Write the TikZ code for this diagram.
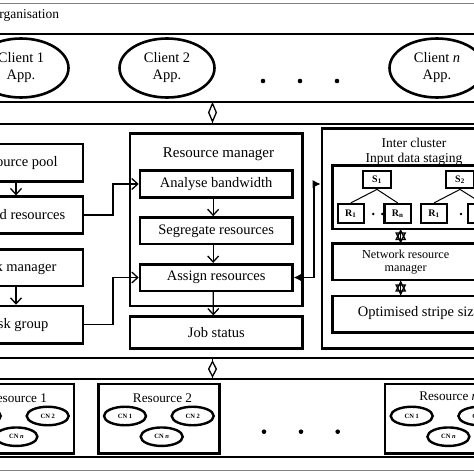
\documentclass[tikz,border=0pt]{standalone}
\usepackage{fontspec}
\setmainfont{Liberation Serif}
\usetikzlibrary{arrows.meta,shapes.geometric}
\begin{document}
\begin{tikzpicture}[x=1pt,y=-1pt,
  band/.style={draw,line width=2.6pt,inner sep=0pt,minimum width=520pt},
  box/.style={draw,line width=2.6pt,inner sep=0pt,align=center,font=\fontsize{14.5}{17}\selectfont},
  client/.style={draw,ellipse,line width=2.6pt,inner sep=0pt,align=center,minimum width=95pt,minimum height=59pt,font=\fontsize{14.5}{17}\selectfont},
  cn/.style={draw,ellipse,line width=2.4pt,inner sep=0pt,minimum width=42pt,minimum height=18.5pt,font=\bfseries\fontsize{6.5}{7}\selectfont},
  small/.style={draw,line width=2.2pt,inner sep=0pt,font=\bfseries\fontsize{10}{11}\selectfont},
  lbl/.style={inner sep=0pt,align=center},
  conn/.style={line width=1.3pt},
  barb/.style={conn,-{Straight Barb[length=6pt,width=11pt,line width=1.3pt]}},
  both/.style={conn,{Latex[length=8pt,width=8pt]}-{Latex[length=8pt,width=8pt]}},
  dot/.style={circle,fill,inner sep=0pt,minimum size=4.6pt},
  sdot/.style={circle,fill,inner sep=0pt,minimum size=2.8pt},
  tri/.style={line width=1.3pt},
]
\useasboundingbox (0,0) rectangle (474,474);
\clip (0,0) rectangle (474,474);
\fill[white] (0,0) rectangle (474,474);

% organisation frame
\node[draw=gray,line width=1pt,minimum width=490pt,minimum height=467pt] (org) at (237,237) {};
\node[lbl,anchor=east,font=\fontsize{13.5}{16}\selectfont] (orgt) at (59.3,15) {Virtual organisation};

% bands
\node[band,minimum height=68pt] (cband) at (237,68) {};
\node[band,minimum height=234pt] (mband) at (237,241) {};
\node[band,minimum height=78pt] (bband) at (237,418) {};

% clients
\node[client] (c1) at (21,68) {Client 1\\App.};
\node[client] (c2) at (167,68) {Client 2\\App.};
\node[client] (cn) at (437,68) {Client \textit{n}\\App.};
\node[dot] (d1) at (263,81) {};
\node[dot] (d2) at (300,81) {};
\node[dot] (d3) at (337,81) {};

% diamond connectors
\coordinate (dx) at (212.5,0);
\draw[conn] (cband.south -| dx) -- (mband.north -| dx);
\draw[line width=1.3pt,fill=white] (212.5,103.5) -- (216.3,112.5) -- (212.5,121.5) -- (208.7,112.5) -- cycle;
\draw[conn] (mband.south -| dx) -- (bband.north -| dx);
\draw[line width=1.3pt,fill=white] (212.5,361.5) -- (216.3,369) -- (212.5,376.5) -- (208.7,369) -- cycle;

% left column
\node[box,minimum width=134pt,minimum height=37.7pt] (pool) at (16,162.9) {Resource pool};
\node[box,minimum width=134pt,minimum height=36.6pt] (shared) at (16,215) {Shared resources};
\node[box,minimum width=134pt,minimum height=36.7pt] (task) at (16,267.7) {Task manager};
\node[box,minimum width=134pt,minimum height=37.3pt] (group) at (16,324.7) {Task group};
\draw[barb] (pool.south) -- (shared.north);
\draw[barb] (task.south) -- (group.north);

% resource manager
\node[box,minimum width=172.7pt,minimum height=172.7pt] (rm) at (216.35,219.65) {};
\node[lbl,anchor=base,font=\fontsize{15}{18}\selectfont] (rmt) at (218.5,157.3) {Resource manager};
\node[box,minimum width=152.3pt,minimum height=26.6pt] (analyse) at (216.15,184) {Analyse bandwidth};
\node[box,minimum width=152.3pt,minimum height=26.6pt] (segregate) at (216.15,230.8) {Segregate resources};
\node[box,minimum width=152.3pt,minimum height=26.6pt] (assign) at (216.15,277.5) {Assign resources};
\node[box,minimum width=172.7pt,minimum height=31.6pt] (job) at (216.35,332.5) {Job status};
\draw[barb] ([xshift=-3pt]analyse.south) -- ([xshift=-3pt]segregate.north);
\draw[barb] ([xshift=-3pt]segregate.south) -- ([xshift=-3pt]assign.north);
\draw[barb] ([xshift=-3pt]assign.south) -- ([xshift=-3pt]job.north);
\draw[barb] (shared.east) -- ++(28.7,0) |- (analyse.west);
\draw[barb] (group.east) -- ++(28.7,0) |- (assign.west);

% inter cluster
\node[box,minimum width=182pt,minimum height=219.8pt] (ic) at (413,238.4) {};
\draw[both] (assign.east) -- ++(20.4,0) |- (ic.west |- analyse.center);
\node[lbl,font=\fontsize{13.5}{15}\selectfont] (ict) at (414,151.5) {Inter cluster\\Input data staging};
\node[box,minimum width=161.7pt,minimum height=63.3pt] (sr) at (413.2,197.35) {};
\node[small,minimum width=27.4pt,minimum height=17.6pt] (s1) at (377,179.5) {S\textsubscript{1}};
\node[small,minimum width=27.4pt,minimum height=17.6pt] (s2) at (460,179.5) {S\textsubscript{2}};
\node[small,minimum width=26.3pt,minimum height=19.3pt] (r1a) at (350.85,213.65) {R\textsubscript{1}};
\node[small,minimum width=26.3pt,minimum height=19.3pt] (rna) at (397.65,213.65) {R\textsubscript{n}};
\node[small,minimum width=26.3pt,minimum height=19.3pt] (r1b) at (434,213.65) {R\textsubscript{1}};
\node[small,minimum width=26.3pt,minimum height=19.3pt] (rnb) at (481.5,213.65) {R\textsubscript{n}};
\draw[line width=1pt] (s1.south) -- (r1a.north);
\draw[line width=1pt] (s1.south) -- (rna.north);
\draw[line width=1pt] (s2.south) -- (r1b.north);
\draw[line width=1pt] (s2.south) -- (rnb.north);
\node[sdot] (e1) at (373.3,214) {};
\node[sdot] (e2) at (382.3,214) {};
\node[sdot] (e3) at (461,214) {};

\node[box,minimum width=161.7pt,minimum height=36.7pt] (nrm) at (413.2,261.65) {};
\node[lbl,font=\fontsize{12.2}{13.4}\selectfont] (nrmt) at (405.7,262) {Network resource\\manager};
\node[box,minimum width=161.7pt,minimum height=36.7pt] (opt) at (413.2,314.35) {};
\node[lbl,anchor=west,font=\fontsize{14.5}{17}\selectfont] (optt) at (357.7,313.5) {Optimised stripe size};

% star connectors
\coordinate (sx) at (400.7,0);
\draw[line width=1pt] (sr.south -| sx) -- (nrm.north -| sx);
\draw[tri] (396.2,239.5) -- (400.7,230.5) -- (405.2,239.5) -- cycle;
\draw[tri] (396.2,233) -- (400.7,242) -- (405.2,233) -- cycle;
\draw[line width=1pt] (nrm.south -| sx) -- (opt.north -| sx);
\draw[tri] (396.2,291) -- (400.7,282) -- (405.2,291) -- cycle;
\draw[tri] (396.2,285) -- (400.7,294) -- (405.2,285) -- cycle;

% resources
\node[box,minimum width=121pt,minimum height=69.3pt] (res1) at (13.5,418.65) {};
\node[box,minimum width=121pt,minimum height=69.3pt] (res2) at (158.8,418.65) {};
\node[box,minimum width=121pt,minimum height=69.3pt] (resn) at (445.5,418.65) {};
\node[lbl,anchor=base,font=\fontsize{13.2}{15}\selectfont] (res1t) at (17.5,402.5) {Resource 1};
\node[lbl,anchor=base,font=\fontsize{13.2}{15}\selectfont] (res2t) at (162.5,402.7) {Resource 2};
\node[lbl,anchor=base,font=\fontsize{13.2}{15}\selectfont] (resnt) at (448.8,400) {Resource \textit{n}};

\node[cn] (a1) at (-20.3,416) {CN 1};
\node[cn] (a2) at (47.7,416) {CN 2};
\node[cn] (an) at (16.4,436.7) {CN \textit{n}};
\node[cn] (b1) at (125,416) {CN 1};
\node[cn] (b2) at (192.7,416) {CN 2};
\node[cn] (bn) at (161.7,436.7) {CN \textit{n}};
\node[cn] (z1) at (411.7,416) {CN 1};
\node[cn] (z2) at (479.4,416) {CN 2};
\node[cn] (zn) at (448.4,436.7) {CN \textit{n}};

\node[dot] (f1) at (264,431.7) {};
\node[dot] (f2) at (301,431.7) {};
\node[dot] (f3) at (337.7,431.7) {};
\end{tikzpicture}
\end{document}
